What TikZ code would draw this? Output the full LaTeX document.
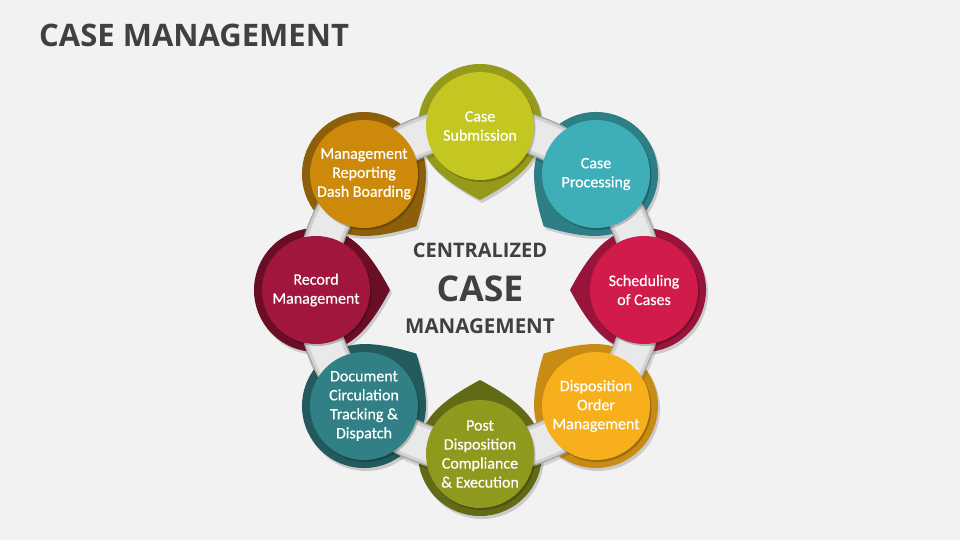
\documentclass[tikz,border=0pt]{standalone}
\usepackage{fontspec}
\setmainfont{Carlito}
\newfontfamily\stepfont[FakeBold=0.5]{Carlito}
\newfontfamily\headfont{Open Sans}
\definecolor{bg}{HTML}{F2F2F2}
\definecolor{titlegray}{HTML}{404040}
\definecolor{ringedge}{HTML}{A8A8A8}
\definecolor{ringmid}{HTML}{D2D2D2}
\definecolor{ringfill}{HTML}{E9E9E9}
\definecolor{cAb}{HTML}{C4C722}\definecolor{cAd}{HTML}{969A1B}
\definecolor{cBb}{HTML}{3EAEB8}\definecolor{cBd}{HTML}{2E7E85}
\definecolor{cCb}{HTML}{D01B4B}\definecolor{cCd}{HTML}{98143A}
\definecolor{cDb}{HTML}{F7B01C}\definecolor{cDd}{HTML}{C88C14}
\definecolor{cEb}{HTML}{8F991E}\definecolor{cEd}{HTML}{626A16}
\definecolor{cFb}{HTML}{308085}\definecolor{cFd}{HTML}{235A5E}
\definecolor{cGb}{HTML}{A0163C}\definecolor{cGd}{HTML}{6A0E26}
\definecolor{cHb}{HTML}{CD8A0A}\definecolor{cHd}{HTML}{8C5F08}
\newcommand\cmdrop{(31,-53.7) .. controls (48.3,-43.7) and (62.3,-22.1) .. (74,0) .. controls (62.3,22.1) and (48.3,43.7) .. (31,53.7) arc[start angle=60,end angle=300,radius=62] -- cycle}
% back part: shadow and dark teardrop
\newcommand\cmback[4]{%
  \begin{scope}[shift={(#1+2,#2+3)},rotate=#3]\fill[black,opacity=.16] \cmdrop;\end{scope}
  \begin{scope}[shift={(#1,#2)},rotate=#3]\fill[#4] \cmdrop;\end{scope}
}
% front part: bright circle with its text
\newcommand\cmfront[5]{%
  \fill[black,opacity=.22] (#2+1.5,#3+2) circle[radius=54];
  \node[stepcircle,fill=#4] (#1) at (#2,#3) {#5};
}
\tikzset{
  stepcircle/.style={circle,minimum size=108pt,inner sep=0pt,text=white,align=center,
    font=\stepfont\fontsize{16}{19}\selectfont},
  headtext/.style={text=titlegray,font=\headfont\bfseries\fontsize{#1}{#1}\selectfont,inner sep=0pt}
}
\begin{document}
\begin{tikzpicture}[x=1pt,y=-1pt]
\fill[bg] (0,0) rectangle (960,540);
\useasboundingbox (0,0) rectangle (960,540);
\node[headtext=31,anchor=west] (title) at (39,35) {CASE MANAGEMENT};
% dark teardrops
\cmback{480}{126}{-90}{cAd}
\cmback{596}{174}{-135}{cBd}
\cmback{644}{290}{180}{cCd}
\cmback{596}{406}{135}{cDd}
\cmback{480}{454}{90}{cEd}
\cmback{364}{406}{45}{cFd}
\cmback{316}{290}{0}{cGd}
\cmback{364}{174}{-45}{cHd}
% ring band over the teardrops
\draw[line width=42pt,black,opacity=.12] (481,292) circle[radius=164];
\draw[line width=40pt,ringedge] (480,290) circle[radius=164];
\draw[line width=37pt,ringmid] (480,290) circle[radius=164];
\draw[line width=31pt,ringfill] (480,290) circle[radius=164];
% bright circles
\cmfront{s1}{480}{126}{cAb}{Case\\Submission}
\cmfront{s2}{596}{174}{cBb}{Case\\Processing}
\cmfront{s3}{644}{290}{cCb}{Scheduling\\of Cases}
\cmfront{s4}{596}{406}{cDb}{Disposition\\Order\\Management}
\cmfront{s5}{480}{454}{cEb}{Post\\Disposition\\Compliance\\\& Execution}
\cmfront{s6}{364}{406}{cFb}{Document\\Circulation\\Tracking \&\\Dispatch}
\cmfront{s7}{316}{290}{cGb}{Record\\Management}
\cmfront{s8}{364}{174}{cHb}{Management\\Reporting\\Dash Boarding}
% centre
\node[headtext=20] (c1) at (480,250) {CENTRALIZED};
\node[headtext=35.5] (c2) at (480,289) {CASE};
\node[headtext=20.5] (c3) at (480,326) {MANAGEMENT};
\end{tikzpicture}
\end{document}
